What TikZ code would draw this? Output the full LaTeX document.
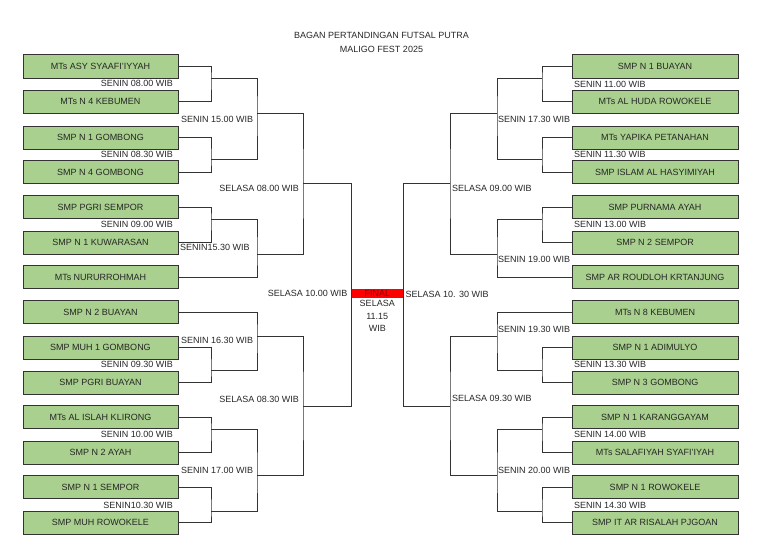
\documentclass[tikz,border=0pt]{standalone}
\usepackage{fontspec}
\setmainfont{Liberation Sans}
\definecolor{boxgreen}{HTML}{A9D08E}
\definecolor{linec}{HTML}{333333}
\definecolor{txt}{HTML}{262626}
\definecolor{finalred}{HTML}{FF0000}
\definecolor{finaltxt}{HTML}{8B0000}
\begin{document}
\begin{tikzpicture}[x=1pt,y=-1pt,
  font=\fontsize{9}{10.8}\selectfont,
  team/.style={draw=linec, line width=1pt, fill=boxgreen, minimum height=23pt, inner sep=0pt, text=txt},
  lteam/.style={team, minimum width=155pt},
  rteam/.style={team, minimum width=166pt},
  lbl/.style={inner sep=0pt, text=txt},
  wire/.style={draw=linec, line width=0.8pt}]
\useasboundingbox (0,0) rectangle (768,543);

% title
\node[lbl] (t1) at (381.5,35.7) {BAGAN PERTANDINGAN FUTSAL PUTRA};
\node[lbl] (t2) at (381.5,49) {MALIGO FEST 2025};

% left teams
\node[lteam] (L1)  at (100.5,66.5)  {MTs ASY SYAAFI'IYYAH};
\node[lteam] (L2)  at (100.5,101.5) {MTs N 4 KEBUMEN};
\node[lteam] (L3)  at (100.5,137.5) {SMP N 1 GOMBONG};
\node[lteam] (L4)  at (100.5,172.2) {SMP N 4 GOMBONG};
\node[lteam] (L5)  at (100.5,207.2) {SMP PGRI SEMPOR};
\node[lteam] (L6)  at (100.5,242.5) {SMP N 1 KUWARASAN};
\node[lteam] (L7)  at (100.5,277.2) {MTs NURURROHMAH};
\node[lteam] (L8)  at (100.5,312.2) {SMP N 2 BUAYAN};
\node[lteam] (L9)  at (100.5,347.5) {SMP MUH 1 GOMBONG};
\node[lteam] (L10) at (100.5,382.5) {SMP PGRI BUAYAN};
\node[lteam] (L11) at (100.5,417.2) {MTs AL ISLAH KLIRONG};
\node[lteam] (L12) at (100.5,452.5) {SMP N 2 AYAH};
\node[lteam] (L13) at (100.5,487.2) {SMP N 1 SEMPOR};
\node[lteam] (L14) at (100.5,522.5) {SMP MUH ROWOKELE};

% right teams
\node[rteam] (R1)  at (655,66.5)  {SMP N 1 BUAYAN};
\node[rteam] (R2)  at (655,101.5) {MTs AL HUDA ROWOKELE};
\node[rteam] (R3)  at (655,137.5) {MTs YAPIKA PETANAHAN};
\node[rteam] (R4)  at (655,172.2) {SMP ISLAM AL HASYIMIYAH};
\node[rteam] (R5)  at (655,207.2) {SMP PURNAMA AYAH};
\node[rteam] (R6)  at (655,242.5) {SMP N 2 SEMPOR};
\node[rteam] (R7)  at (655,277.2) {SMP AR ROUDLOH KRTANJUNG};
\node[rteam] (R8)  at (655,312.2) {MTs N 8 KEBUMEN};
\node[rteam] (R9)  at (655,347.5) {SMP N 1 ADIMULYO};
\node[rteam] (R10) at (655,382.5) {SMP N 3 GOMBONG};
\node[rteam] (R11) at (655,417.2) {SMP N 1 KARANGGAYAM};
\node[rteam] (R12) at (655,452.5) {MTs SALAFIYAH SYAFI'IYAH};
\node[rteam] (R13) at (655,487.2) {SMP N 1 ROWOKELE};
\node[rteam] (R14) at (655,522.5) {SMP IT AR RISALAH PJGOAN};

% final
\node[fill=finalred, minimum width=51.5pt, minimum height=8.5pt, inner sep=0pt, text=finaltxt] (F) at (377.25,293.5) {FINAL};
\node[lbl, align=center, font=\fontsize{9}{12.3}\selectfont, anchor=north] (FT) at (377.25,300.5) {SELASA\\11.15\\WIB};

% junction coordinates, left
\coordinate (a1) at (211,78.3);
\coordinate (a2) at (211,159.3);
\coordinate (a3) at (211,219);
\coordinate (a4) at (211,370.7);
\coordinate (a5) at (211,429.3);
\coordinate (a6) at (211,511);
\coordinate (c1) at (257,113.3);
\coordinate (c2) at (257,254);
\coordinate (c3) at (257,336);
\coordinate (c4) at (257,475);
\coordinate (d1) at (303,183.3);
\coordinate (d2) at (303,406);
% junction coordinates, right
\coordinate (ra1) at (542,78.3);
\coordinate (ra2) at (542,159.3);
\coordinate (ra3) at (542,219);
\coordinate (ra4) at (542,370.7);
\coordinate (ra5) at (542,429.3);
\coordinate (ra6) at (542,511);
\coordinate (rc1) at (497,113.3);
\coordinate (rc2) at (497,254);
\coordinate (rc3) at (497,336);
\coordinate (rc4) at (497,475);
\coordinate (rd1) at (450,183.3);
\coordinate (rd2) at (450,406);

% left connectors
\path[wire] (L1.east) -| (a1) |- (L2.east);
\path[wire] (L3.east) -| (a2) |- (L4.east);
\path[wire] (L5.east) -| (a3) |- (L6.east);
\path[wire] (a1) -| (c1) |- (a2);
\path[wire] (a3) -| (c2) |- (L7.east);
\path[wire] (c1) -| (d1) |- (c2);
\path[wire] (L9.east) -| (a4) |- (L10.east);
\path[wire] (L8.east) -| (c3) |- (a4);
\path[wire] (L11.east) -| (a5) |- (L12.east);
\path[wire] (L13.east) -| (a6) |- (L14.east);
\path[wire] (a5) -| (c4) |- (a6);
\path[wire] (c3) -| (d2) |- (c4);
\path[wire] (d1) -| (F.west) |- (d2);

% right connectors
\path[wire] (R1.west) -| (ra1) |- (R2.west);
\path[wire] (R3.west) -| (ra2) |- (R4.west);
\path[wire] (R5.west) -| (ra3) |- (R6.west);
\path[wire] (ra1) -| (rc1) |- (ra2);
\path[wire] (ra3) -| (rc2) |- (R7.west);
\path[wire] (rc1) -| (rd1) |- (rc2);
\path[wire] (R9.west) -| (ra4) |- (R10.west);
\path[wire] (R8.west) -| (rc3) |- (ra4);
\path[wire] (R11.west) -| (ra5) |- (R12.west);
\path[wire] (R13.west) -| (ra6) |- (R14.west);
\path[wire] (ra5) -| (rc4) |- (ra6);
\path[wire] (rc3) -| (rd2) |- (rc4);
\path[wire] (rd1) -| (F.east) |- (rd2);

% left labels
\node[lbl, anchor=east] (s1) at (173,83.8)  {SENIN 08.00 WIB};
\node[lbl, anchor=east] (s2) at (173,154.3) {SENIN 08.30 WIB};
\node[lbl, anchor=east] (s3) at (173,224)   {SENIN 09.00 WIB};
\node[lbl, anchor=east] (s4) at (173,364.7) {SENIN 09.30 WIB};
\node[lbl, anchor=east] (s5) at (173,434)   {SENIN 10.00 WIB};
\node[lbl, anchor=east] (s6) at (173,505)   {SENIN10.30 WIB};
\node[lbl, anchor=west] (s7) at (181,119)   {SENIN 15.00 WIB};
\node[lbl, anchor=west] (s8) at (180,247.3) {SENIN15.30 WIB};
\node[lbl, anchor=west] (s9) at (181,340)   {SENIN 16.30 WIB};
\node[lbl, anchor=west] (s10) at (181,470)  {SENIN 17.00 WIB};
\node[lbl, anchor=east] (s11) at (299,188.3) {SELASA 08.00 WIB};
\node[lbl, anchor=east] (s12) at (299,399)   {SELASA 08.30 WIB};
\node[lbl, anchor=east] (s13) at (347.5,293.5) {SELASA 10.00 WIB};

% right labels
\node[lbl, anchor=west] (r1) at (574,84.5)  {SENIN 11.00 WIB};
\node[lbl, anchor=west] (r2) at (574,154.8) {SENIN 11.30 WIB};
\node[lbl, anchor=west] (r3) at (574,224)   {SENIN 13.00 WIB};
\node[lbl, anchor=west] (r4) at (574,364.7) {SENIN 13.30 WIB};
\node[lbl, anchor=west] (r5) at (574,434)   {SENIN 14.00 WIB};
\node[lbl, anchor=west] (r6) at (574,505)   {SENIN 14.30 WIB};
\node[lbl, anchor=west] (r7) at (498,119)   {SENIN 17.30 WIB};
\node[lbl, anchor=west] (r8) at (498,259.3) {SENIN 19.00 WIB};
\node[lbl, anchor=west] (r9) at (498,329.5) {SENIN 19.30 WIB};
\node[lbl, anchor=west] (r10) at (498,470)  {SENIN 20.00 WIB};
\node[lbl, anchor=west] (r11) at (452,188.3) {SELASA 09.00 WIB};
\node[lbl, anchor=west] (r12) at (452,398.3) {SELASA 09.30 WIB};
\node[lbl, anchor=west] (r13) at (405.5,294) {SELASA 10. 30 WIB};
\end{tikzpicture}
\end{document}
